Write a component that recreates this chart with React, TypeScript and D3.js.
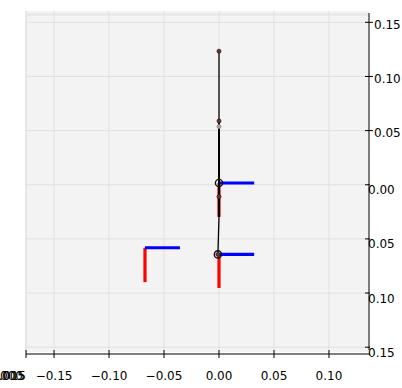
import React from "react";
import * as d3 from "d3";

// ---- data ----
const xTicks = [-0.15, -0.1, -0.05, 0, 0.05, 0.1];
const yTicks = [0.15, 0.1, 0.05, 0, -0.05, -0.1, -0.15];
const yTickLabels = ["0.15", "0.10", "0.05", "0.00", "0.05", "0.10", "0.15"];
const zTickLabels = ["0.000", "0.005", "0.015"];

// skeleton chain (x, y)
const chainX = [0, 0, 0, 0, 0, -0.001];
const chainY = [0.1233, 0.0589, 0.0016, -0.011, -0.03, -0.0643];
const chainWidth = [1.3, 2, 2, 2, 1.3];
// joint markers
const markerX = [0, 0, 0, 0, -0.001];
const markerY = [0.1233, 0.0589, 0.0537, -0.011, -0.0643];
const markerFaded = [false, false, true, false, false];
// joint rings
const ringX = [0, -0.001];
const ringY = [0.0016, -0.0643];
// coordinate frames: origin, axis length
const frameX = [0, 0, -0.0673];
const frameY = [0.0016, -0.0643, -0.0582];
const frameBlueLen = [0.032, 0.032, 0.0318];
const frameRedLen = [0.0314, 0.031, 0.0317];

const W = 402;
const H = 388;
const left = 26;
const right = 369;
const top = 13;
const bottom = 350;

export default function App() {
  const x = d3.scaleLinear().domain([-0.1755, 0.1364]).range([left, right]);
  const y = d3.scaleLinear().domain([0.1586, -0.1526]).range([top, bottom]);
  const fmt = d3.format(".2f");
  const axisY = 354;
  const font = "'DejaVu Sans', sans-serif";
  const line = d3
    .line<number>()
    .x((i) => x(chainX[i]))
    .y((i) => y(chainY[i]));
  const zEnds = [23, 25, 26];

  return (
    <svg
      width={W}
      height={H}
      style={{ position: "absolute", left: 0, top: 0, display: "block" }}
    >
      <rect x={0} y={0} width={W} height={H} fill="#ffffff" />
      {/* pane */}
      <rect x={25} y={11} width={344} height={341} fill="#f3f3f3" />
      <line x1={25} x2={369} y1={14.5} y2={14.5} stroke="#e6e6e6" strokeWidth={2} />
      <line x1={26} x2={26} y1={11} y2={352} stroke="#e6e6e6" strokeWidth={2} />
      {/* grid */}
      {xTicks.map((t) => (
        <line key={"gx" + t} x1={x(t)} x2={x(t)} y1={11} y2={352} stroke="#e0e0e0" strokeWidth={1} />
      ))}
      {yTicks.map((t) => (
        <line key={"gy" + t} x1={25} x2={369} y1={y(t)} y2={y(t)} stroke="#e0e0e0" strokeWidth={1} />
      ))}

      {/* frames */}
      {frameX.map((fx, i) => (
        <g key={"f" + i}>
          <line
            x1={x(fx)}
            x2={x(fx)}
            y1={y(frameY[i])}
            y2={y(frameY[i] - frameRedLen[i])}
            stroke="#ff0000"
            strokeWidth={3.2}
          />
          <line
            x1={x(fx)}
            x2={x(fx + frameBlueLen[i])}
            y1={y(frameY[i])}
            y2={y(frameY[i])}
            stroke="#0000ff"
            strokeWidth={3.2}
          />
        </g>
      ))}

      {/* skeleton */}
      {chainWidth.map((w, i) => (
        <path key={"s" + i} d={line([i, i + 1]) || ""} stroke="#000" strokeWidth={w} fill="none" />
      ))}
      {ringX.map((rx, i) => (
        <circle key={"r" + i} cx={x(rx)} cy={y(ringY[i])} r={3.6} fill="none" stroke="#111" strokeWidth={1.4} />
      ))}
      {markerX.map((mx, i) => (
        <circle
          key={"m" + i}
          cx={x(mx)}
          cy={y(markerY[i])}
          r={2}
          fill={markerFaded[i] ? "#b0a0a0" : "#7a3030"}
          stroke={markerFaded[i] ? "#888" : "#222"}
          strokeWidth={0.8}
        />
      ))}

      {/* bottom axis */}
      <line x1={left} x2={370} y1={axisY} y2={axisY} stroke="#000" strokeWidth={1} />
      <line x1={left} x2={left} y1={350} y2={358} stroke="#000" strokeWidth={1} />
      {xTicks.map((t) => (
        <g key={"xt" + t}>
          <line x1={x(t)} x2={x(t)} y1={350} y2={358} stroke="#000" strokeWidth={1} />
          <text x={x(t)} y={379.5} textAnchor="middle" fontFamily={font} fontSize={12} fill="#000">
            {fmt(t)}
          </text>
        </g>
      ))}
      {zTickLabels.map((s, i) => (
        <text key={"z" + i} x={zEnds[i]} y={379.5} textAnchor="end" fontFamily={font} fontSize={12} fill="#000">
          {s}
        </text>
      ))}

      {/* right axis */}
      <line x1={right} x2={right} y1={top} y2={bottom} stroke="#000" strokeWidth={1} />
      {yTicks.map((t, i) => {
        const upper = t > 0;
        return (
          <g key={"yt" + t}>
            <line
              x1={365}
              x2={upper ? 373 : 370}
              y1={y(t)}
              y2={y(t)}
              stroke="#000"
              strokeWidth={1}
            />
            <text
              x={upper ? 374 : 368}
              y={y(t) + (upper ? 6.5 : 9.5)}
              fontFamily={font}
              fontSize={12}
              fill="#000"
            >
              {yTickLabels[i]}
            </text>
          </g>
        );
      })}
    </svg>
  );
}
